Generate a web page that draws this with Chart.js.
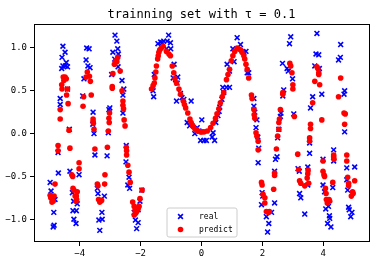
<!DOCTYPE html>
<html><head><meta charset="utf-8">
<script src="https://cdn.jsdelivr.net/npm/chart.js@4/dist/chart.umd.min.js"></script>
<style>html,body{margin:0;padding:0;background:#fff}#wrap{width:376px;height:264px}</style>
</head><body><div id="wrap"><canvas id="c" width="376" height="264"></canvas></div>
<script>
const titleText = 'trainning set with τ = 0.1';
const seriesNames = ['real', 'predict'];
const xTicks = [-4, -2, 0, 2, 4];
const yTicks = [-1.0, -0.5, 0.0, 0.5, 1.0];

const realX = [
-4.55,-4.48,-4.58,-4.44,-4.55,-4.47,-4.40,-4.59,-4.40,-4.64,-4.64,-4.34,-4.71,-4.70,-4.97,-4.94,-4.81,-4.85,-4.87,-4.84,
-3.77,-3.69,-3.79,-3.73,-3.66,-3.86,-3.90,-3.56,-3.57,-3.53,-3.50,-4.32,-4.02,-4.24,-4.20,-4.22,-4.11,-4.08,-4.19,-4.12,
-3.42,-3.40,-3.37,-3.34,
-2.84,-2.78,-2.75,-2.91,-2.73,-2.85,-2.74,-2.95,-2.61,-2.55,-2.58,-3.01,-3.04,-2.58,-3.06,-3.10,-2.47,-2.48,-2.38,-2.42,
-2.36,-3.19,-3.27,-3.26,-1.96,-2.02,-2.08,-2.17,-2.08,-2.13,-2.21,-1.57,-1.59,-1.55,-1.43,-1.34,-1.24,-1.29,
-1.08,-1.02,-1.13,-1.15,-1.01,-0.90,-0.93,-0.85,-0.78,-0.80,-0.69,-0.64,-0.82,-0.58,-0.34,-0.47,-0.39,-0.22,-0.14,-0.08,
0.01,-0.03,0.08,0.16,0.43,0.35,0.38,0.47,0.54,0.58,0.60,0.67,0.73,0.70,
0.84,0.92,0.82,0.92,1.03,1.17,1.28,1.07,1.46,1.39,1.50,1.55,1.72,1.72,1.75,1.82,1.79,1.85,1.88,1.86,
1.99,2.01,1.97,2.13,2.21,2.17,2.30,2.40,2.40,2.43,2.48,2.50,2.54,2.59,2.61,2.67,2.70,2.66,2.81,2.85,
2.89,2.93,2.99,3.03,
3.79,3.76,3.85,3.72,3.87,3.65,3.58,3.95,3.55,3.55,3.17,3.21,3.49,3.49,3.22,3.26,3.39,
4.57,4.56,4.50,4.70,4.68,4.70,4.34,4.34,3.99,3.99,4.04,4.08,4.17,4.20,4.21,4.14,4.25,4.31,
5.03,4.77,4.77,4.80,4.83,4.85,4.94,4.90
];
const realY = [
1.02,0.95,0.89,0.83,0.79,0.79,0.78,0.76,0.52,0.41,0.34,0.05,-0.22,-0.46,-0.57,-0.67,-0.77,-0.92,-1.09,-1.07,
1.00,0.99,0.86,0.79,0.77,0.64,0.44,0.25,0.11,0.00,-0.25,-0.44,-0.48,-0.69,-0.79,-0.90,-0.90,-0.82,-1.00,-1.05,
-0.64,-0.70,-1.01,-1.13,
1.15,1.08,0.99,0.95,0.93,0.87,0.78,0.69,0.62,0.52,0.45,0.30,0.28,0.24,0.01,-0.26,-0.14,-0.33,-0.51,-0.60,
-0.64,-0.73,-0.92,-1.00,-0.66,-0.79,-0.89,-1.01,-1.04,-1.11,-0.92,0.43,0.50,0.69,1.05,1.07,1.08,1.06,
1.15,1.06,1.08,0.99,0.99,0.81,0.65,0.63,0.66,0.59,0.47,0.42,0.38,0.40,0.38,0.13,0.09,0.00,0.07,0.03,
0.16,-0.08,-0.08,-0.08,-0.08,-0.04,0.01,0.13,0.21,0.26,0.31,0.40,0.48,0.54,
0.81,0.73,0.54,0.54,0.99,1.12,1.04,0.84,0.96,0.95,0.71,0.71,0.41,0.32,0.25,0.16,0.07,-0.04,-0.17,-0.34,
-0.69,-0.73,-0.83,-0.97,-1.05,-1.15,-0.92,-0.81,-0.44,-0.30,-0.27,-0.05,0.05,0.20,0.24,0.44,0.51,0.82,0.76,0.73,
1.05,1.13,0.64,0.23,
1.17,0.93,0.92,0.79,0.76,0.43,0.30,0.46,-0.11,-0.23,-0.41,-0.44,-0.39,-0.60,-0.70,-0.75,-0.94,
1.04,0.89,0.86,0.50,0.46,0.02,-0.19,-0.32,-0.30,-0.60,-0.68,-0.88,-0.85,-0.96,-0.99,-1.05,-1.09,-0.63,
-0.39,-0.40,-0.54,-0.66,-0.86,-0.89,-0.92,-0.97
];

const predX = [
-4.54,-4.48,-4.44,-4.52,-4.59,-4.58,-4.40,-4.43,-4.38,-4.64,-4.64,-4.35,-4.32,-4.71,-4.71,-4.81,-4.97,-4.95,-4.91,-4.87,-4.84,
-3.75,-3.79,-3.68,-3.65,-3.62,-3.87,-3.89,-3.56,-3.56,-3.55,-3.53,-3.50,-4.02,-4.02,-4.26,-4.23,-4.22,-4.19,-4.15,-4.11,
-4.10,-4.08,-4.12,-3.42,-3.40,-3.38,-3.34,
-2.75,-2.82,-2.86,-2.78,-2.67,-2.91,-2.93,-2.93,-2.61,-2.58,-2.58,-2.56,-2.54,-2.51,-3.02,-3.04,-3.03,-3.06,-3.09,-2.47,
-2.46,-2.46,-2.42,-2.38,-2.34,-3.17,-3.18,-3.28,-2.26,-2.21,-2.18,-2.16,-2.13,-2.08,-2.05,-2.02,-1.95,-2.21,
-1.64,-1.59,-1.55,-1.53,-1.50,-1.48,-1.44,-1.42,-1.40,-1.37,-1.32,-1.26,
-1.15,-1.07,-1.02,-0.96,-0.91,-0.87,-0.82,-0.74,-0.69,-0.60,-0.56,-0.52,-0.45,-0.38,-0.34,-0.30,-0.27,-0.21,-0.16,-0.12,
-0.03,0.00,0.08,0.19,0.30,0.38,0.46,0.51,0.57,0.62,0.68,0.73,
0.82,0.87,0.92,0.98,1.03,1.09,1.17,1.22,1.28,1.33,1.39,1.42,1.46,1.50,1.55,1.64,1.66,1.72,1.73,1.75,
1.79,1.82,1.86,1.86,1.97,1.99,2.02,2.08,2.08,2.13,2.19,2.23,2.37,2.40,2.40,2.46,2.50,2.54,2.54,2.56,
2.59,2.67,2.67,2.90,2.93,2.97,3.00,3.00,3.05,
3.79,3.82,3.85,3.85,3.72,3.88,3.65,3.58,3.58,3.55,3.55,3.95,3.16,3.19,3.50,3.49,3.47,3.22,3.26,3.39,3.52,
3.99,3.99,4.02,4.04,4.07,4.09,4.10,4.13,4.19,4.21,4.31,4.34,4.34,4.35,
4.57,4.50,4.68,4.72,4.70,4.77,4.77,4.80,4.83,4.83,4.96,4.92,4.98,5.03
];
const predY = [
0.66,0.66,0.64,0.62,0.57,0.52,0.52,0.45,0.35,0.28,0.17,0.04,-0.17,-0.14,-0.20,-0.59,-0.72,-0.75,-0.80,-0.79,-0.73,
0.72,0.66,0.67,0.61,0.45,0.43,0.32,0.17,0.14,0.12,0.05,-0.18,-0.34,-0.41,-0.48,-0.50,-0.64,-0.66,-0.73,-0.73,
-0.77,-0.68,-0.79,-0.59,-0.61,-0.77,-0.80,
0.89,0.85,0.81,0.84,0.73,0.70,0.55,0.53,0.50,0.38,0.33,0.29,0.16,0.09,0.24,0.18,0.13,0.03,-0.16,-0.16,
-0.20,-0.25,-0.37,-0.45,-0.57,-0.48,-0.59,-0.78,-0.80,-0.85,-0.90,-0.93,-0.91,-0.88,-0.85,-0.76,-0.66,-0.95,
0.52,0.56,0.59,0.65,0.72,0.79,0.87,0.91,0.95,0.98,1.00,1.02,
0.96,0.93,0.91,0.79,0.71,0.64,0.59,0.52,0.46,0.38,0.34,0.30,0.24,0.17,0.13,0.10,0.08,0.05,0.04,0.03,
0.02,0.02,0.02,0.03,0.07,0.12,0.18,0.23,0.29,0.36,0.43,0.48,
0.63,0.69,0.75,0.85,0.91,0.96,1.00,0.99,0.98,0.95,0.91,0.87,0.81,0.75,0.65,0.45,0.41,0.28,0.22,0.18,
0.01,-0.03,-0.09,-0.19,-0.57,-0.60,-0.71,-0.75,-0.81,-0.91,-0.92,-0.91,-0.65,-0.46,-0.49,-0.18,-0.03,0.05,0.13,0.17,
0.28,0.48,0.46,0.82,0.79,0.71,0.57,0.52,0.20,
0.78,0.76,0.71,0.69,0.61,0.57,0.36,0.11,0.06,-0.05,-0.09,0.16,-0.24,-0.42,-0.43,-0.47,-0.52,-0.55,-0.58,-0.61,-0.58,
-0.32,-0.44,-0.48,-0.50,-0.64,-0.70,-0.77,-0.81,-0.77,-0.79,-0.57,-0.25,-0.27,-0.30,
0.65,0.43,0.24,0.23,0.11,-0.25,-0.32,-0.51,-0.58,-0.61,-0.68,-0.73,-0.70,-0.55
];

const toPts = (xs, ys) => xs.map((x, i) => ({x: x, y: ys[i]}));
const BLUE = '#0000ff', RED = '#ff0000';
const MONO = '"DejaVu Sans Mono", "Liberation Mono", monospace';
const fmtX = v => (v < 0 ? '\u2212' : '') + Math.abs(v);
const fmtY = v => (v < 0 ? '\u2212' : '') + Math.abs(v).toFixed(1);

const framePlugin = {
  id: 'frame',
  afterDatasetsDraw(chart) {
    const a = chart.chartArea, ctx = chart.ctx;
    ctx.save();
    ctx.strokeStyle = '#000';
    ctx.lineWidth = 1;
    ctx.strokeRect(a.left + 0.5, a.top + 0.5, a.right - a.left, a.bottom - a.top - 1);
    ctx.restore();
  }
};

const legendPlugin = {
  id: 'mplLegend',
  afterDraw(chart) {
    const ctx = chart.ctx;
    const x = 167, y = 208, w = 70, h = 29, r = 2;
    ctx.save();
    ctx.beginPath();
    ctx.moveTo(x + r, y); ctx.lineTo(x + w - r, y); ctx.arcTo(x + w, y, x + w, y + r, r);
    ctx.lineTo(x + w, y + h - r); ctx.arcTo(x + w, y + h, x + w - r, y + h, r);
    ctx.lineTo(x + r, y + h); ctx.arcTo(x, y + h, x, y + h - r, r);
    ctx.lineTo(x, y + r); ctx.arcTo(x, y, x + r, y, r);
    ctx.closePath();
    ctx.fillStyle = 'rgba(255,255,255,0.8)';
    ctx.fill();
    ctx.strokeStyle = '#cccccc';
    ctx.lineWidth = 1;
    ctx.stroke();
    const ds = chart.data.datasets;
    const rows = [{name: seriesNames[0], ds: ds[1], yy: 216.5}, {name: seriesNames[1], ds: ds[0], yy: 229.5}];
    rows.forEach(row => {
      ctx.fillStyle = row.ds.backgroundColor;
      ctx.strokeStyle = row.ds.borderColor;
      ctx.lineWidth = row.ds.borderWidth;
      ctx.beginPath();
      if (row.ds.pointStyle === 'circle') {
        ctx.arc(180.5, row.yy, row.ds.pointRadius, 0, Math.PI * 2);
        ctx.fill();
      } else {
        const d = row.ds.pointRadius * Math.SQRT1_2;
        ctx.moveTo(180.5 - d, row.yy - d); ctx.lineTo(180.5 + d, row.yy + d);
        ctx.moveTo(180.5 - d, row.yy + d); ctx.lineTo(180.5 + d, row.yy - d);
        ctx.stroke();
      }
      ctx.fillStyle = '#000';
      ctx.font = '8px ' + MONO;
      ctx.textBaseline = 'middle';
      ctx.textAlign = 'left';
      ctx.fillText(row.name, 199, row.yy);
    });
    ctx.restore();
  }
};

new Chart(document.getElementById('c'), {
  type: 'scatter',
  data: {
    datasets: [
      {label: seriesNames[1], data: toPts(predX, predY), pointStyle: 'circle', pointRadius: 2.8,
       backgroundColor: RED, borderColor: RED, borderWidth: 0, order: 0},
      {label: seriesNames[0], data: toPts(realX, realY), pointStyle: 'crossRot', pointRadius: 3.4,
       backgroundColor: BLUE, borderColor: BLUE, borderWidth: 1.6, order: 1}
    ]
  },
  options: {
    responsive: false,
    animation: false,
    devicePixelRatio: 1,
    layout: {padding: {left: 0, right: 7, top: 0, bottom: 0}},
    plugins: {
      legend: {display: false},
      tooltip: {enabled: false},
      title: {display: true, text: titleText, color: '#000', fullSize: false,
        font: {family: MONO, size: 12, weight: 'normal', lineHeight: '16px'},
        padding: {top: 7, bottom: 1}}
    },
    scales: {
      x: {
        type: 'linear', min: -5.5, max: 5.5,
        afterFit: s => { s.height = 22; },
        afterBuildTicks: s => { s.ticks = xTicks.map(v => ({value: v})); },
        grid: {display: true, drawOnChartArea: false, drawTicks: true, tickLength: 4, color: '#000', tickColor: '#000', tickWidth: 1},
        border: {display: false},
        ticks: {color: '#000', font: {family: MONO, size: 9}, padding: 2, maxRotation: 0, callback: v => fmtX(v)}
      },
      y: {
        type: 'linear', min: -1.266, max: 1.28,
        afterFit: s => { s.width = 34; },
        afterBuildTicks: s => { s.ticks = yTicks.map(v => ({value: v})); },
        grid: {display: true, drawOnChartArea: false, drawTicks: true, tickLength: 4, color: '#000', tickColor: '#000', tickWidth: 1},
        border: {display: false},
        ticks: {color: '#000', font: {family: MONO, size: 9}, padding: 3, callback: v => fmtY(v)}
      }
    }
  },
  plugins: [framePlugin, legendPlugin]
});
</script>
</body></html>
